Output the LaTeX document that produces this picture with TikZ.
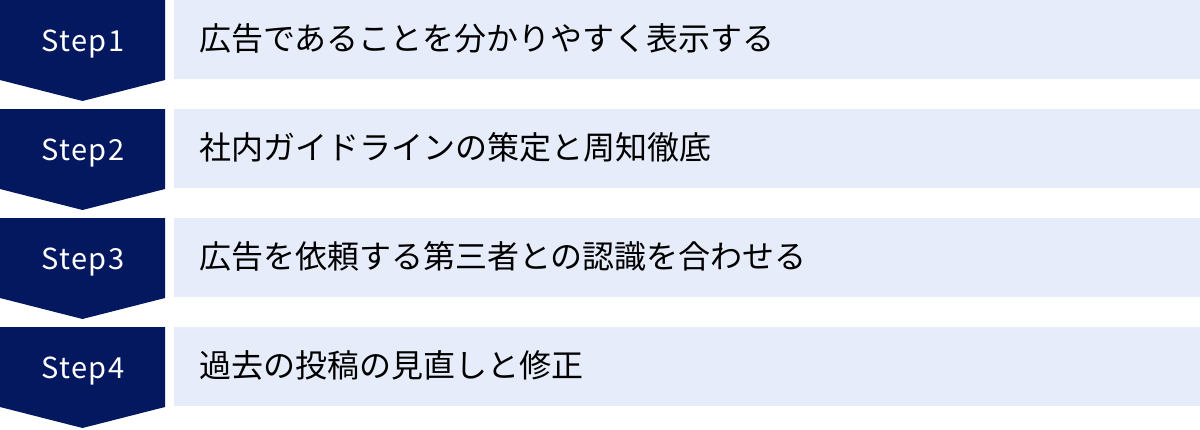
\documentclass[tikz,border=0pt]{standalone}
\usepackage{fontspec}
\setmainfont{Noto Sans CJK JP}
\definecolor{navy}{HTML}{041860}
\definecolor{lightbox}{HTML}{E6ECF9}
\begin{document}
\begin{tikzpicture}[x=1pt,y=-1pt,
  steplabel/.style={text=white,font=\fontsize{29}{32}\selectfont,anchor=base,inner sep=0pt},
  itemtext/.style={text=black,font=\fontsize{32}{36}\selectfont,anchor=base west,inner sep=0pt},
  itembox/.style={fill=lightbox,draw=none}]
\useasboundingbox (0,0) rectangle (1200,429);
\foreach \i/\t in {0/{広告であることを分かりやすく表示する},1/{社内ガイドラインの策定と周知徹底},2/{広告を依頼する第三者との認識を合わせる},3/{過去の投稿の見直しと修正}}{
  \pgfmathsetmacro{\yy}{\i*109}
  \fill[navy] (0,\yy) -- (165,\yy) -- (165,\yy+80) -- (82.5,\yy+101) -- (0,\yy+80) -- cycle;
  \node[steplabel] (s\i) at (83,\yy+51.7) {\addfontfeatures{LetterSpace=5}Step\the\numexpr\i+1\relax};
  \fill[itembox] (174,\yy) rectangle (1200,\yy+79);
  \node[itemtext] (t\i) at (199,\yy+50.5) {\t};
}
\end{tikzpicture}
\end{document}
